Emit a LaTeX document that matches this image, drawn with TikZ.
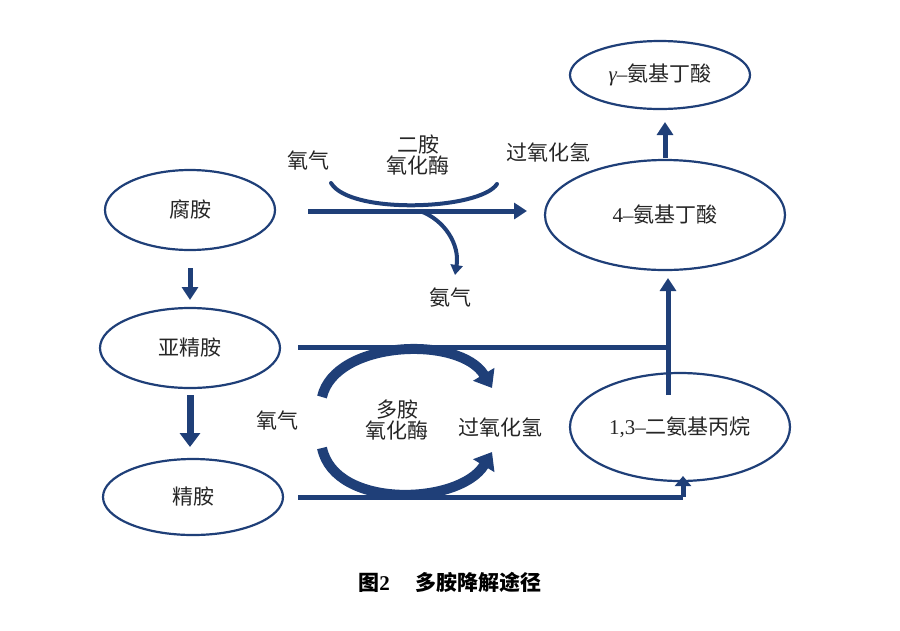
\documentclass[tikz,border=0pt]{standalone}
\usepackage{fontspec}
\setmainfont{Liberation Serif}
\newfontfamily\cjk{Noto Sans CJK SC}
\usetikzlibrary{arrows.meta}
\definecolor{db}{HTML}{1F3F78}
\tikzset{
 ell/.style={ellipse,draw=db,line width=2.2pt,minimum width=#1},
 lab/.style={font=\fontsize{21}{23}\selectfont\cjk,text=black!85,align=center},
 fl/.style={draw=db,line width=5pt},
 tip/.style={-{Triangle[length=13pt,width=16pt]}},
}
\usetikzlibrary{shapes.geometric}
\begin{document}
\begin{tikzpicture}[x=1pt,y=-1pt]
\useasboundingbox (0,0) rectangle (900,630);
\node[ell=170pt,minimum height=80pt,lab] (f) at (190,210) {腐胺};
\node[ell=180pt,minimum height=80pt,lab] (y) at (190,348) {亚精胺};
\node[ell=180pt,minimum height=76pt,lab] (j) at (193,497) {精胺};
\node[ell=180pt,minimum height=68pt,lab] (g) at (660,75) {\rmfamily\itshape γ\upshape–\cjk 氨基丁酸};
\node[ell=240pt,minimum height=110pt,lab] (a) at (665,215) {\rmfamily 4–\cjk 氨基丁酸};
\node[ell=220pt,minimum height=108pt,lab] (d) at (680,427) {\rmfamily 1,3–\cjk 二氨基丙烷};
% labels
\node[lab] (o1) at (308,160) {氧气};
\node[lab] (e1) at (418,155) {二胺\\[-2pt]氧化酶};
\node[lab] (h1) at (548,152) {过氧化氢};
\node[lab] (n1) at (450,298) {氨气};
\node[lab] (o2) at (277,420) {氧气};
\node[lab] (e2) at (397,420) {多胺\\[-2pt]氧化酶};
\node[lab] (h2) at (500,427) {过氧化氢};
\node[font=\bfseries\fontsize{21}{23}\selectfont\cjk] (cap) at (450,582) {图\rmfamily 2\cjk\quad\ 多胺降解途径};
% coordinates
\coordinate (p1) at (308,211); \coordinate (p2) at (527,211);
\coordinate (c1) at (331,183); \coordinate (c2) at (497,184);
\coordinate (n0) at (420,211); \coordinate (n2) at (455,275);
\coordinate (y1) at (298,347); \coordinate (y2) at (668,347); \coordinate (y3) at (668,278);
\coordinate (j1) at (298,497); \coordinate (j2) at (683,497); \coordinate (j3) at (683,476);
\coordinate (t1) at (322,397); \coordinate (t2) at (492,388);
\coordinate (b1) at (322,448); \coordinate (b2) at (492,452);
% connectors
\draw[fl,tip] (p1) -- (p2);
\draw[draw=db,line width=4pt,line cap=round] (c1) .. controls (350,215) and (480,210) .. (c2);
\draw[draw=db,line width=4pt,-{Triangle[length=10pt,width=12pt]}] (n0) .. controls (445,220) and (460,245) .. (n2);
\draw[fl,line width=5pt,tip] (f.south |- 0,268) -- (190,300);
\draw[fl,line width=7pt,-{Triangle[length=14pt,width=20pt]}] (190,395) -- (190,447);
\draw[fl,tip] (a.north |- 0,158) -- (665,122);
\draw[fl] (y1) -- (y2);
\draw[fl,tip] (668,395) -- (y3);
\draw[fl] (j1) -- (j2);
\draw[fl,-{Triangle[length=10pt,width=16pt]}] (j2) -- (j3);
\draw[draw=db,line width=10pt,-{Triangle[length=16pt,width=24pt]}] (t1) .. controls (335,340) and (460,335) .. (t2);
\draw[draw=db,line width=10pt,-{Triangle[length=16pt,width=24pt]}] (b1) .. controls (335,510) and (460,505) .. (b2);
\end{tikzpicture}
\end{document}
